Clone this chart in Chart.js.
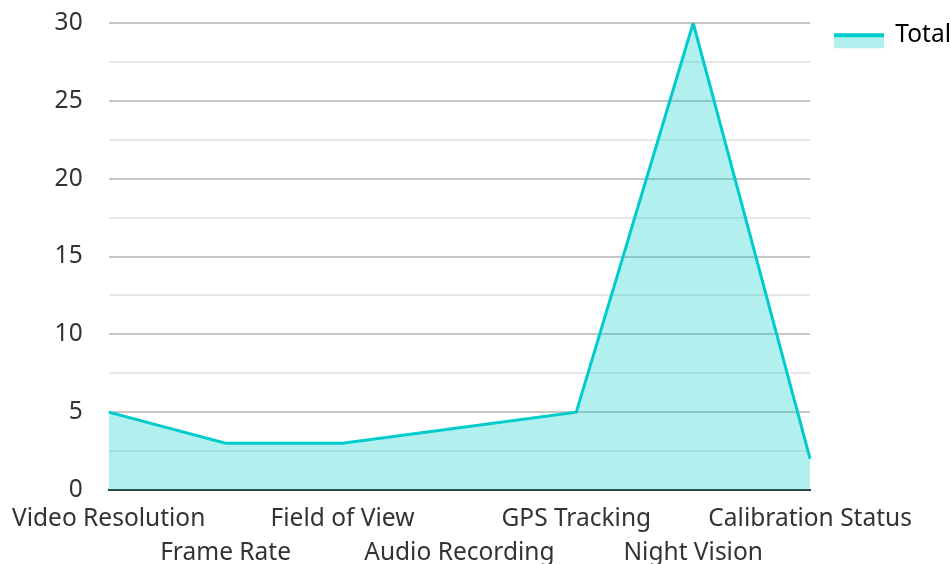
<!DOCTYPE html>
<html>
<head>
<meta charset="utf-8">
<script src="https://cdn.jsdelivr.net/npm/chart.js@4"></script>
<style>
  html, body { margin: 0; padding: 0; background: #fff; }
  #wrap { width: 951px; height: 564px; }
</style>
</head>
<body>
<div id="wrap"><canvas id="chart"></canvas></div>
<script>
// data
const categories = ['Video Resolution', 'Frame Rate', 'Field of View', 'Audio Recording', 'GPS Tracking', 'Night Vision', 'Calibration Status'];
const totals = [5, 3, 3, 4, 5, 30, 2];
const seriesName = 'Total';

const lineColor = '#00cccc';
const areaColor = 'rgba(0, 204, 204, 0.3)';

Chart.defaults.font.family = '"Noto Sans", sans-serif';
Chart.defaults.color = '#333';

// legend swatch: thick line on top, area fill below (shifted down a bit)
function makeSwatch() {
    const c = document.createElement('canvas');
    c.width = 50;
    c.height = 30;
    const g = c.getContext('2d');
    g.fillStyle = areaColor;
    g.fillRect(0, 13, 50, 15);
    g.fillStyle = lineColor;
    g.fillRect(0, 13, 50, 4);
    return c;
}
const swatch = makeSwatch();

const ctx = document.getElementById('chart').getContext('2d');
new Chart(ctx, {
    type: 'line',
    data: {
        labels: categories,
        datasets: [{
            label: seriesName,
            data: totals,
            borderColor: lineColor,
            backgroundColor: areaColor,
            borderWidth: 3,
            fill: 'origin',
            tension: 0,
            pointRadius: 0,
            pointHoverRadius: 0
        }]
    },
    options: {
        responsive: true,
        maintainAspectRatio: false,
        animation: false,
        layout: { padding: { top: -2, right: -10, bottom: 0, left: 0 } },
        scales: {
            x: {
                offset: false,
                grid: { display: false, drawTicks: false },
                border: { display: true, color: '#333', width: 2 },
                ticks: {
                    autoSkip: false,
                    maxRotation: 0,
                    padding: 12,
                    font: { size: 24.5, lineHeight: 1.39 },
                    // stagger every other label onto a second row
                    callback: function(val, i) {
                        const label = this.getLabelForValue(val);
                        return i % 2 ? ['', label] : label;
                    }
                },
                afterFit: s => { s.height = 74; }
            },
            y: {
                min: 0,
                max: 30,
                border: { display: false },
                grid: {
                    drawTicks: false,
                    color: c => (c.tick && c.tick.value % 5 === 0) ? '#c6c6c6' : '#e8e8e8',
                    lineWidth: 2
                },
                ticks: {
                    stepSize: 2.5,
                    padding: 26,
                    font: { size: 24.5 },
                    callback: v => (v % 5 === 0 ? v : '')
                },
                afterFit: s => { s.paddingTop = 23; s.paddingBottom = 0; }
            }
        },
        plugins: {
            legend: {
                position: 'right',
                align: 'start',
                labels: {
                    usePointStyle: true,
                    pointStyleWidth: 48,
                    font: { size: 24.5 },
                    padding: 25,
                    generateLabels: chart => chart.data.datasets.map((ds, i) => ({
                        text: ds.label,
                        pointStyle: swatch,
                        fillStyle: areaColor,
                        strokeStyle: lineColor,
                        lineWidth: 0,
                        datasetIndex: i,
                        hidden: false
                    }))
                }
            },
            tooltip: { enabled: false }
        }
    }
});
</script>
</body>
</html>
